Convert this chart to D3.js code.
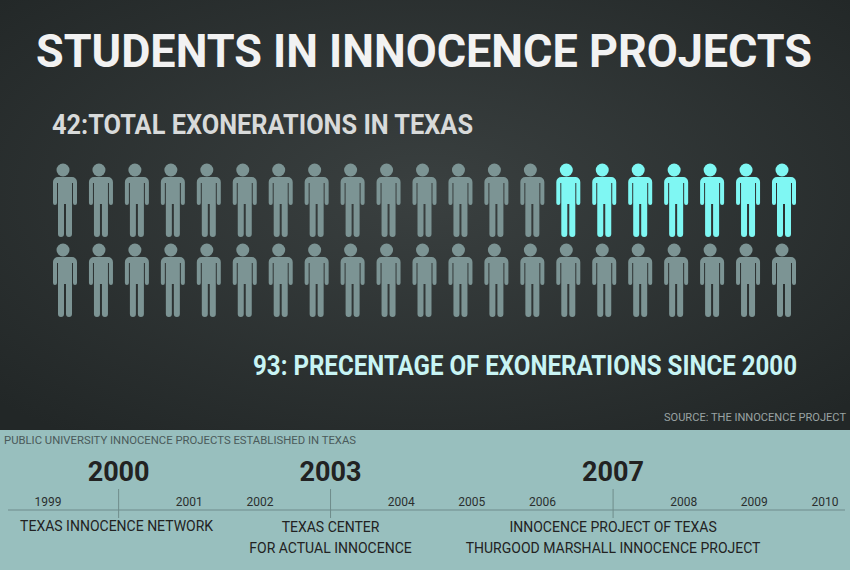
<!DOCTYPE html><html><head><meta charset="utf-8">
<script src="https://cdn.jsdelivr.net/npm/d3@7"></script>
<style>body{margin:0;background:#2b3131}text{font-family:"Liberation Sans Narrow","Roboto",sans-serif}</style></head><body>
<svg id="c" width="850" height="570"></svg>
<script>
const total = 42, highlighted = 7;
const rows = 2, cols = 21;
const years = [1999,2000,2001,2002,2003,2004,2005,2006,2007,2008,2009,2010];
const majorYears = [2000,2003,2007];
const projects = [
 {year:2000, lines:["TEXAS INNOCENCE NETWORK"]},
 {year:2003, lines:["TEXAS CENTER","FOR ACTUAL INNOCENCE"]},
 {year:2007, lines:["INNOCENCE PROJECT OF TEXAS","THURGOOD MARSHALL INNOCENCE PROJECT"]}
];
const svg = d3.select("#c");
const defs = svg.append("defs");
const g = defs.append("radialGradient").attr("id","bg").attr("cx","50%").attr("cy","45%").attr("r","70%");
g.append("stop").attr("offset","0%").attr("stop-color","#3a4040");
g.append("stop").attr("offset","100%").attr("stop-color","#222727");
svg.append("rect").attr("width",850).attr("height",430).attr("fill","url(#bg)");
svg.append("rect").attr("y",430).attr("width",850).attr("height",140).attr("fill","#98bfbe");
function fit(sel,len){sel.attr("textLength",len).attr("lengthAdjust","spacingAndGlyphs");return sel;}
fit(svg.append("text").attr("x",36).attr("y",67).attr("fill","#f2f2f2")
 .attr("font-size",46).attr("font-weight","bold").text("STUDENTS IN INNOCENCE PROJECTS"),776);
fit(svg.append("text").attr("x",52).attr("y",134).attr("fill","#d8dada").attr("font-size",27).attr("font-weight","bold").text("42:TOTAL EXONERATIONS IN TEXAS"),421);
fit(svg.append("text").attr("x",253).attr("y",375).attr("fill","#c8f4f4").attr("font-size",27).attr("font-weight","bold").text("93: PRECENTAGE OF EXONERATIONS SINCE 2000"),544);
fit(svg.append("text").attr("x",664).attr("y",421).attr("fill","#9aa3a3").attr("font-size",11).text("SOURCE: THE INNOCENCE PROJECT"),182);
const x = d3.scaleLinear().domain([0,cols-1]).range([63,782]);
const y = d3.scaleLinear().domain([0,1]).range([163,243]);
const people = d3.range(total).map(i=>({i,r:Math.floor(i/cols),c:i%cols}));
const personPath = "M-9,14 h18 a5,5 0 0 1 5,5 v21 a2,2 0 0 1 -4,0 v-20 h-1 v51 a3,3 0 0 1 -6,0 v-30 h-2 v30 a3,3 0 0 1 -6,0 v-51 h-1 v20 a2,2 0 0 1 -4,0 v-21 a5,5 0 0 1 5,-5z";
const pg = svg.append("g").selectAll("g").data(people).join("g")
 .attr("transform",d=>`translate(${x(d.c)},${y(d.r)})`)
 .attr("fill",d=>d.r===0 && d.c>=cols-highlighted ? "#7ff7f3" : "#7c9494");
pg.append("circle").attr("cx",0).attr("cy",7).attr("r",6.5);
pg.append("path").attr("d",personPath);
fit(svg.append("text").attr("x",4).attr("y",444).attr("fill","#4a5a5a").attr("font-size",11).text("PUBLIC UNIVERSITY INNOCENCE PROJECTS ESTABLISHED IN TEXAS"),352);
const t = d3.scaleLinear().domain([1999,2010]).range([48,825]);
svg.append("line").attr("x1",8).attr("x2",845).attr("y1",510).attr("y2",510).attr("stroke","#6f8c8b").attr("stroke-width",1.2);
svg.append("g").selectAll("text").data(years.filter(d=>!majorYears.includes(d))).join("text")
 .attr("x",d=>t(d)).attr("y",506).attr("text-anchor","middle").attr("font-size",12).attr("fill","#2a2f2f").text(d=>d);
svg.append("g").selectAll("line").data(majorYears).join("line")
 .attr("x1",d=>t(d)).attr("x2",d=>t(d)).attr("y1",489).attr("y2",518).attr("stroke","#6f8c8b");
svg.append("g").selectAll("text").data(majorYears).join("text")
 .attr("x",d=>t(d)).attr("y",481).attr("text-anchor","middle").attr("font-size",27).attr("font-weight","bold").attr("fill","#222").text(d=>d);
projects.forEach(p=>{p.lines.forEach((l,k)=>{
 svg.append("text").attr("x",t(p.year)-(p.year===2000?2:0)).attr("y",(p.year===2000?531:532)+k*21).attr("text-anchor","middle")
  .attr("font-size",14).attr("fill","#222").text(l);});});
</script></body></html>
